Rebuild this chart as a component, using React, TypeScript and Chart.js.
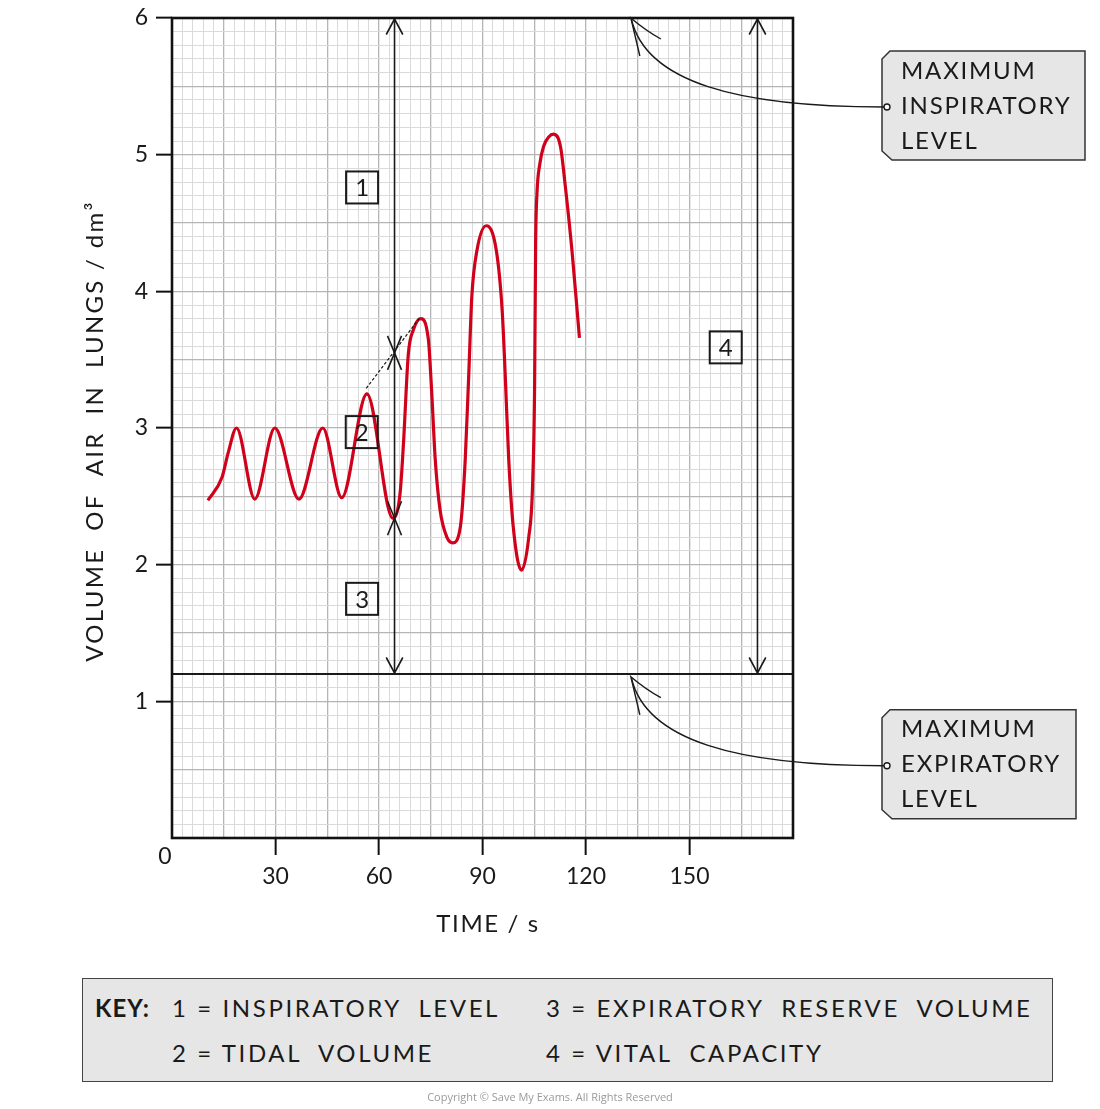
import React, { useEffect, useRef } from 'react';
import { Chart, registerables } from 'chart.js';
Chart.register(...registerables);

// ---- data ----
const timeS = [10.4, 14.5, 16.3, 18.7, 24.0, 29.8, 36.8, 43.7, 49.2, 56.5, 64.0, 66.1, 67.1, 68.5, 70.0, 72.1, 74.3, 75.3, 76.3, 77.7, 79.7, 81.4, 83.6, 85.0, 86.0, 86.9, 88.4, 91.1, 94.0, 95.7, 96.6, 97.6, 98.9, 101.3, 103.4, 104.5, 105.1, 105.4, 105.8, 106.6, 107.7, 109.2, 110.6, 112.6, 114.0, 116.0, 118.1];
const volumeDm3 = [2.47, 2.64, 2.82, 3.0, 2.48, 3.0, 2.48, 3.0, 2.49, 3.25, 2.34, 2.52, 2.89, 3.54, 3.72, 3.80, 3.65, 3.25, 2.77, 2.40, 2.20, 2.16, 2.28, 2.77, 3.38, 3.96, 4.30, 4.48, 4.30, 3.86, 3.38, 2.77, 2.28, 1.96, 2.20, 2.57, 3.3, 4.35, 4.72, 4.93, 5.06, 5.13, 5.15, 5.06, 4.77, 4.28, 3.66];

const xTickLabels = [30, 60, 90, 120, 150];
const yTickLabels = [1, 2, 3, 4, 5, 6];

const maxExpiratoryLevel = 1.2;
const maxInspiratoryLevel = 6;
const arrowTimes = [64.5, 169.7];
const tidalMarkTime = 64.5;
const tidalMarkVolumes = [3.55, 2.34];
const dashStart = [56.3, 3.29];
const dashEnd = [71.9, 3.81];
const boxLabels = ['1', '2', '3', '4'];
const boxTimes = [55.1, 55.0, 55.1, 160.5];
const boxVolumes = [4.76, 2.97, 1.75, 3.59];
const calloutTime = 133;
const calloutVolumes = [6, 1.18];
const calloutTexts = [
  ['MAXIMUM', 'INSPIRATORY', 'LEVEL'],
  ['MAXIMUM', 'EXPIRATORY', 'LEVEL'],
];
const keyItems = [
  ['1 = INSPIRATORY  LEVEL', '3 = EXPIRATORY  RESERVE  VOLUME'],
  ['2 = TIDAL  VOLUME', '4 = VITAL  CAPACITY'],
];

const FONT = 'Lato, "Noto Sans", sans-serif';
const RED = '#d0021b';
const INK = '#1a1a1a';

function seg(ctx: CanvasRenderingContext2D, x1: number, y1: number, x2: number, y2: number) {
  ctx.beginPath();
  ctx.moveTo(x1, y1);
  ctx.lineTo(x2, y2);
  ctx.stroke();
}

const annotPlugin = {
  id: 'annot',
  beforeDatasetsDraw(chart: any) {
    const { ctx, scales } = chart;
    const x = scales.x, y = scales.y;
    ctx.save();
    ctx.strokeStyle = INK;
    ctx.lineCap = 'round';
    ctx.lineWidth = 2;
    const yl = y.getPixelForValue(maxExpiratoryLevel);
    seg(ctx, x.left, yl, x.right, yl);
    ctx.lineWidth = 1.6;
    const yTop = y.getPixelForValue(maxInspiratoryLevel);
    arrowTimes.forEach((t) => {
      const px = x.getPixelForValue(t);
      seg(ctx, px, yTop, px, yl);
      ctx.beginPath();
      ctx.moveTo(px - 8, yTop + 16); ctx.lineTo(px, yTop + 1); ctx.lineTo(px + 8, yTop + 16);
      ctx.moveTo(px - 8, yl - 16); ctx.lineTo(px, yl - 1); ctx.lineTo(px + 8, yl - 16);
      ctx.stroke();
    });
    ctx.restore();
  },
  afterDatasetsDraw(chart: any) {
    const { ctx, chartArea: a, scales } = chart;
    const x = scales.x, y = scales.y;
    ctx.save();
    ctx.strokeStyle = INK;
    ctx.fillStyle = INK;
    ctx.lineWidth = 1.2;
    ctx.setLineDash([3, 2]);
    seg(ctx, x.getPixelForValue(dashStart[0]), y.getPixelForValue(dashStart[1]), x.getPixelForValue(dashEnd[0]), y.getPixelForValue(dashEnd[1]));
    ctx.setLineDash([]);
    ctx.lineWidth = 1.6;
    const mx = x.getPixelForValue(tidalMarkTime);
    tidalMarkVolumes.forEach((v) => {
      const my = y.getPixelForValue(v);
      seg(ctx, mx - 7, my - 17, mx + 7, my + 17);
      seg(ctx, mx + 7, my - 17, mx - 7, my + 17);
    });
    ctx.lineWidth = 2;
    ctx.font = `24px ${FONT}`;
    ctx.textAlign = 'center';
    ctx.textBaseline = 'middle';
    boxLabels.forEach((lab, i) => {
      const bx = x.getPixelForValue(boxTimes[i]);
      const by = y.getPixelForValue(boxVolumes[i]);
      ctx.strokeRect(bx - 16, by - 16, 32, 32);
      ctx.fillText(lab, bx, by + 1);
    });
    ctx.lineWidth = 2.6;
    ctx.strokeStyle = '#111';
    ctx.strokeRect(a.left, a.top, a.right - a.left, a.bottom - a.top);

    calloutVolumes.forEach((v, i) => {
      const tx = x.getPixelForValue(calloutTime);
      const ty = y.getPixelForValue(v);
      const boxL = a.right + 89;
      const boxT = ty + 33;
      const boxW = i === 0 ? 203 : 194;
      const boxH = 109;
      ctx.beginPath();
      ctx.moveTo(boxL + 8, boxT);
      ctx.lineTo(boxL + boxW, boxT);
      ctx.lineTo(boxL + boxW, boxT + boxH);
      ctx.lineTo(boxL + 10, boxT + boxH);
      ctx.lineTo(boxL, boxT + boxH - 9);
      ctx.lineTo(boxL, boxT + 8);
      ctx.closePath();
      ctx.fillStyle = '#e6e6e6';
      ctx.fill();
      ctx.lineWidth = 1.5;
      ctx.strokeStyle = '#333';
      ctx.stroke();
      const sx = boxL + 5, sy = ty + 89;
      ctx.lineWidth = 1.4;
      ctx.strokeStyle = INK;
      ctx.beginPath();
      ctx.moveTo(sx - 3, sy);
      ctx.bezierCurveTo(sx - 150, sy, tx + 15, sy - 25, tx + 0.5, ty + 1);
      ctx.stroke();
      ctx.beginPath();
      ctx.arc(sx, sy, 3, 0, Math.PI * 2);
      ctx.fillStyle = '#fff';
      ctx.fill();
      ctx.stroke();
      ctx.beginPath();
      ctx.moveTo(tx + 9, ty + 38);
      ctx.lineTo(tx, ty);
      ctx.quadraticCurveTo(tx + 14, ty + 12, tx + 30, ty + 21);
      ctx.stroke();
      ctx.fillStyle = INK;
      ctx.font = `24px ${FONT}`;
      ctx.textAlign = 'left';
      ctx.textBaseline = 'middle';
      (ctx as any).letterSpacing = '1.8px';
      calloutTexts[i].forEach((s, k) => {
        ctx.fillText(s, boxL + 19, boxT + 20 + k * 35);
      });
      (ctx as any).letterSpacing = '0px';
    });

    ctx.fillStyle = INK;
    ctx.font = `23px ${FONT}`;
    ctx.textAlign = 'center';
    ctx.textBaseline = 'middle';
    ctx.fillText('0', a.left - 7, a.bottom + 19);

    ctx.font = `24px ${FONT}`;
    ctx.textAlign = 'left';
    (ctx as any).letterSpacing = '1.6px';
    const tTitle = 'TIME / s';
    const tw = ctx.measureText(tTitle).width;
    ctx.fillText(tTitle, a.left + 316 - tw / 2, a.bottom + 86);
    (ctx as any).letterSpacing = '2.3px';
    const yTitle = 'VOLUME  OF  AIR  IN  LUNGS / dm\u00B3';
    ctx.save();
    ctx.translate(a.left - 77, (a.top + a.bottom) / 2 + 3);
    ctx.rotate(-Math.PI / 2);
    const yw = ctx.measureText(yTitle).width;
    ctx.fillText(yTitle, -yw / 2, 0);
    ctx.restore();
    (ctx as any).letterSpacing = '0px';
    ctx.restore();
  },
};

function LungChart() {
  const ref = useRef<HTMLCanvasElement | null>(null);
  useEffect(() => {
    if (!ref.current) return;
    const pts = timeS.map((t, i) => ({ x: t, y: volumeDm3[i] }));
    const chart = new Chart(ref.current, {
      type: 'line',
      data: {
        datasets: [
          {
            data: pts,
            borderColor: RED,
            borderWidth: 3.2,
            pointRadius: 0,
            fill: false,
            cubicInterpolationMode: 'monotone',
          },
        ],
      },
      options: {
        responsive: false,
        animation: false,
        devicePixelRatio: 1,
        layout: { padding: { left: 0, top: 18, right: 307, bottom: 211 } },
        plugins: { legend: { display: false }, tooltip: { enabled: false } },
        scales: {
          x: {
            type: 'linear',
            min: 0,
            max: 180,
            afterFit: (s: any) => { s.height = 60; s.paddingLeft = 0; s.paddingRight = 0; },
            border: { display: false },
            grid: {
              color: (c: any) => (Math.round(c.tick.value) % 15 === 0 ? '#b5b5b5' : '#dadada'),
              lineWidth: (c: any) => (Math.round(c.tick.value) % 15 === 0 ? 1.3 : 1),
              tickColor: (c: any) => (xTickLabels.includes(Math.round(c.tick.value)) ? '#111' : 'rgba(0,0,0,0)'),
              tickWidth: 2,
              tickLength: 17,
            },
            ticks: {
              stepSize: 3,
              autoSkip: false,
              maxRotation: 0,
              padding: 8,
              color: INK,
              font: { family: FONT, size: 23 },
              callback: (v: any) => (xTickLabels.includes(Math.round(Number(v))) ? String(Math.round(Number(v))) : ''),
            },
          },
          y: {
            type: 'linear',
            min: 0,
            max: 6,
            afterFit: (s: any) => { s.width = 172; s.paddingTop = 0; s.paddingBottom = 0; },
            border: { display: false },
            grid: {
              color: (c: any) => (Math.round(c.tick.value * 10) % 5 === 0 ? '#b5b5b5' : '#dadada'),
              lineWidth: (c: any) => (Math.round(c.tick.value * 10) % 5 === 0 ? 1.3 : 1),
              tickColor: (c: any) => (yTickLabels.includes(Math.round(c.tick.value * 10) / 10) ? '#111' : 'rgba(0,0,0,0)'),
              tickWidth: 2,
              tickLength: 16,
            },
            ticks: {
              stepSize: 0.1,
              autoSkip: false,
              padding: 8,
              color: INK,
              font: { family: FONT, size: 23 },
              callback: (v: any) => {
                const r = Math.round(Number(v) * 10) / 10;
                return yTickLabels.includes(r) ? String(r) : '';
              },
            },
          },
        },
      },
      plugins: [annotPlugin],
    } as any);
    return () => chart.destroy();
  }, []);
  return <canvas ref={ref} width={1100} height={1109} style={{ position: 'absolute', left: 0, top: 0 }} />;
}

export default function App() {
  const keyText: React.CSSProperties = {
    position: 'absolute',
    fontFamily: FONT,
    fontSize: 24,
    color: INK,
    whiteSpace: 'pre',
    letterSpacing: '2.6px',
    lineHeight: '30px',
  };
  return (
    <div style={{ position: 'absolute', left: 0, top: 0, width: 1100, height: 1109, background: '#fff' }}>
      <LungChart />
      <div
        style={{
          position: 'absolute',
          left: 82,
          top: 978,
          width: 971,
          height: 104,
          boxSizing: 'border-box',
          background: '#e6e6e6',
          border: '1.5px solid #444',
        }}
      >
        <div style={{ ...keyText, left: 12, top: 14, fontWeight: 700, letterSpacing: '1px' }}>KEY:</div>
        {keyItems.map((row, r) =>
          row.map((txt, c) => (
            <div key={`${r}-${c}`} style={{ ...keyText, left: c === 0 ? 89 : 463, top: 14 + r * 45 }}>
              {txt}
            </div>
          ))
        )}
      </div>
      <div
        style={{
          position: 'absolute',
          left: 0,
          width: 1100,
          top: 1089,
          textAlign: 'center',
          fontFamily: '"Open Sans", sans-serif',
          fontSize: 11,
          color: '#9a9a9a',
        }}
      >
        Copyright © Save My Exams. All Rights Reserved
      </div>
    </div>
  );
}
